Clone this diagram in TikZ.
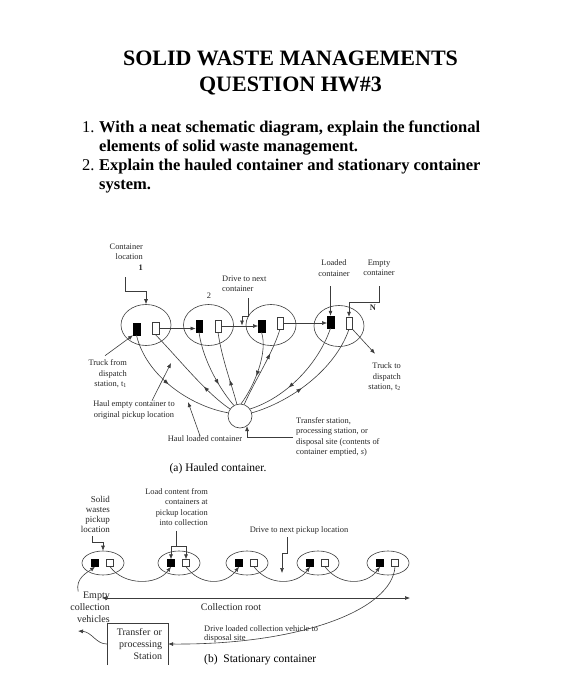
\documentclass[tikz,border=0pt]{standalone}
\usepackage{fontspec}
\setmainfont{Liberation Serif}
\usetikzlibrary{
  arrows.meta,
  decorations.markings,
  shapes.geometric
}
\definecolor{ink}{HTML}{3C3C3C}
\tikzset{
  headline/.style={font=\fontsize{22}{26}\selectfont\bfseries, inner sep=0pt, anchor=base},
  question/.style={font=\fontsize{16.5}{19}\selectfont\bfseries, inner sep=0pt, anchor=base west},
  qnum/.style={question, font=\fontsize{16.5}{19}\selectfont},
  site/.style={ellipse, draw=ink, line width=0.6pt, minimum width=50pt, minimum height=41pt, inner sep=0pt},
  pickup/.style={ellipse, draw=ink, line width=0.6pt, minimum width=42pt, minimum height=24pt, inner sep=0pt},
  loadedbox/.style={draw=black, fill=black, minimum width=6.5pt, minimum height=12pt, inner sep=0pt},
  emptybox/.style={loadedbox, fill=white, draw=ink},
  loadedsq/.style={loadedbox, minimum width=7pt, minimum height=7pt},
  emptysq/.style={emptybox, minimum width=7pt, minimum height=7pt},
  note/.style={font=\fontsize{8.4}{10.5}\selectfont, inner sep=0pt, text=black!85},
  bignote/.style={font=\fontsize{10}{11.8}\selectfont, inner sep=0pt, text=black!85},
  caption/.style={font=\fontsize{11.5}{14}\selectfont, inner sep=0pt},
  link/.style={draw=ink, line width=0.6pt},
  arrow/.style={link, -{Latex[length=5pt, width=4pt]}},
  midarrow/.style={link, postaction={decorate},
    decoration={markings, mark=at position #1 with
      {\fill[ink] (2.5pt,0pt) -- (-2.5pt,2pt) -- (-2.5pt,-2pt) -- cycle;}}},
  midarrow/.default=0.5
}
\begin{document}
\begin{tikzpicture}[x=1pt, y=-1pt]
  \fill[white] (0,0) rectangle (563,700);
  \useasboundingbox (0,0) rectangle (563,700);

  % header and questions
  \node[headline] (head1) at (290.5,66) {SOLID WASTE MANAGEMENTS};
  \node[headline] (head2) at (290.5,92) {QUESTION HW\#3};
  \node[qnum] (n1) at (82,133) {1.};
  \node[question] (q1) at (99,133) {With a neat schematic diagram, explain the functional};
  \node[question] (q1b) at (99,152) {elements of solid waste management.};
  \node[qnum] (n2) at (82,171) {2.};
  \node[question] (q2) at (99,171) {Explain the hauled container and stationary container};
  \node[question] (q2b) at (99,190) {system.};

  % (a) hauled container
  \node[site] (s1) at (146,325) {};
  \node[site] (s2) at (208.5,325) {};
  \node[site] (s3) at (271,325) {};
  \node[site] (s4) at (339,326) {};
  \node[loadedbox] (b1) at (136.5,329) {};
  \node[emptybox] (w1) at (155.5,328.5) {};
  \node[loadedbox] (b2) at (199,326) {};
  \node[emptybox] (w2) at (218,326) {};
  \node[loadedbox] (b3) at (261.5,326) {};
  \node[emptybox] (w3) at (280,323) {};
  \node[loadedbox] (b4) at (330.5,322) {};
  \node[emptybox] (w4) at (349,323) {};
  \node[circle, draw=ink, line width=0.6pt, fill=white, minimum size=24pt, inner sep=0pt] (disp) at (240,416) {};

  \node[note, align=right, anchor=east] (cloc) at (143,257) {Container\\location\\\textbf{1}};
  \node[note, align=left, anchor=west] (drive) at (222,284) {Drive to next\\container};
  \node[note] (two) at (209,296) {2};
  \node[note, align=center] (ldc) at (334,268) {Loaded\\container};
  \node[note, align=center] (emc) at (379,268) {Empty\\container};
  \node[note, font=\fontsize{8.4}{10}\selectfont\bfseries] (nlab) at (373,308) {N};
  \node[note, align=right, anchor=east] (tfrom) at (127,374) {Truck from\\dispatch\\station, t\textsubscript{1}};
  \node[note, align=right, anchor=east] (tto) at (401,377) {Truck to\\dispatch\\station, t\textsubscript{2}};
  \node[note, align=center] (hempty) at (134,410) {Haul empty container to\\original pickup location};
  \node[note] (hloaded) at (205,439) {Haul loaded container};
  \node[note, align=left, anchor=west] (tsite) at (296,437)
    {Transfer station,\\processing station, or\\disposal site (contents of\\container emptied, \textit{s})};
  \node[caption] (capa) at (218,469) {(a) Hauled container.};

  \coordinate (drvtip) at (242,325.5);
  \coordinate (hemptytip) at (171,363);
  \coordinate (hloadedtip) at (188,402);

  \draw[arrow] ([xshift=-18pt, yshift=-7pt]cloc.south east) |- ([yshift=13pt]s1.north) -- (s1.north);
  \draw[arrow] ([xshift=26pt, yshift=-6pt]drive.south west) |- ([yshift=9pt]drvtip) -- (drvtip);
  \draw[arrow] (ldc.south -| b4.north) ++(0,10) -- (b4.north);
  \draw[arrow] (emc.south) ++(0,10) |- ([yshift=15pt]w4.north) -- (w4.north);
  \draw[arrow] (w1.east) -- (w1.east -| b2.west);
  \draw[arrow] (w2.east) -- (w2.east -| b3.west);
  \draw[arrow] (w3.east) -- (w3.east -| b4.west);
  \draw[arrow] ([xshift=-22pt, yshift=4pt]tfrom.north east) -- (b1.south west);
  \draw[arrow] (w4.south east) -- ([xshift=-26pt, yshift=9pt]tto.north east);
  \draw[arrow] ([xshift=18pt]hempty.north) -- (hemptytip);
  \draw[arrow] ([xshift=-5pt]hloaded.north) -- (hloadedtip);
  \draw[arrow] ([xshift=-3pt]tsite.west) -| (disp.-55);

  \draw[midarrow=0.45] (b1.south) .. controls (146,376) and (190,406) .. (disp.165);
  \draw[midarrow=0.3] (disp.145) .. controls (205,392) and (180,360) .. (w1.south);
  \draw[midarrow=0.65] (b2.south) .. controls (203,362) and (222,392) .. (disp.120);
  \draw[midarrow=0.3] (disp.105) .. controls (232,385) and (222,360) .. (w2.south);
  \draw[midarrow=0.55] (b3.south) .. controls (268,352) and (255,385) .. (disp.85);
  \draw[midarrow=0.65] (disp.70) .. controls (255,380) and (272,355) .. (w3.south);
  \draw[midarrow=0.6] (b4.south) .. controls (318,365) and (285,398) .. (disp.35);
  \draw[midarrow=0.4] (disp.15) .. controls (290,402) and (335,370) .. (w4.south);

  % (b) stationary container
  \foreach \i/\x in {1/103, 2/179, 3/247, 4/318, 5/388} {
    \node[pickup] (p\i) at (\x,563) {};
    \node[loadedsq] (k\i) at (\x-8,563) {};
    \node[emptysq] (o\i) at (\x+7,563) {};
  }
  \foreach \i/\j in {1/2, 2/3, 3/4, 4/5}
    \draw[arrow] (o\i.south) .. controls +(14,19) and +(-14,19) .. (k\j.south);

  \node[note, align=right, anchor=east, font=\fontsize{9}{10}\selectfont] (swp) at (110,514) {Solid\\wastes\\pickup\\location};
  \node[note, align=right, anchor=east] (lcf) at (208,507) {Load content from\\containers at\\pickup location\\into collection};
  \node[note] (dnp) at (299,530) {Drive to next pickup location};
  \node[bignote, align=right, anchor=east] (evh) at (110,607) {Empty\\collection\\vehicles};
  \node[bignote] (croot) at (231,607) {Collection root};
  \node[bignote, align=right, text width=49pt, inner xsep=6pt, minimum height=42pt] (tbox) at (137.5,644)
    {Transfer or\\processing\\Station};
  \node[note, align=left, anchor=west, font=\fontsize{8.4}{9.5}\selectfont] (dlv) at (204,634)
    {Drive loaded collection vehicle to\\disposal site};
  \node[caption, anchor=west] (capb) at (204,660) {(b)\ \ Stationary container};

  \coordinate (dnptip) at (282,573);
  \coordinate (routeL) at (102,598);
  \coordinate (routeR) at (410,598);
  \coordinate (evtip) at (78,631);

  \draw[arrow] ([xshift=-18pt, yshift=-4pt]swp.south east) |- ([yshift=8pt]p1.north) -- (p1.north);
  \draw[link] ([xshift=-32pt, yshift=-5pt]lcf.south east) -- ++(0,15) coordinate (lcfj);
  \draw[arrow] (lcfj) -| (k2.north);
  \draw[arrow] (lcfj) -| (o2.north);
  \draw[arrow] ([xshift=-12pt, yshift=-3pt]dnp.south) |- ([yshift=20pt]dnptip) -- (dnptip);
  \draw[link, {Latex[length=5pt, width=4pt]}-{Latex[length=5pt, width=4pt]}] (routeL) -- (routeR);
  \draw[arrow] ([xshift=8pt]evh.north west) .. controls (75,578) and (88,572) .. (k1.south);
  \draw[link] (tbox.south west) -- (tbox.north west) -- (tbox.north east) -- (tbox.south east);
  \draw[arrow] (o5.south) .. controls (392,610) and (300,645) .. (tbox.east);
  \draw[arrow] (tbox.west) .. controls (96,644) and (92,632) .. (evtip);
\end{tikzpicture}
\end{document}
